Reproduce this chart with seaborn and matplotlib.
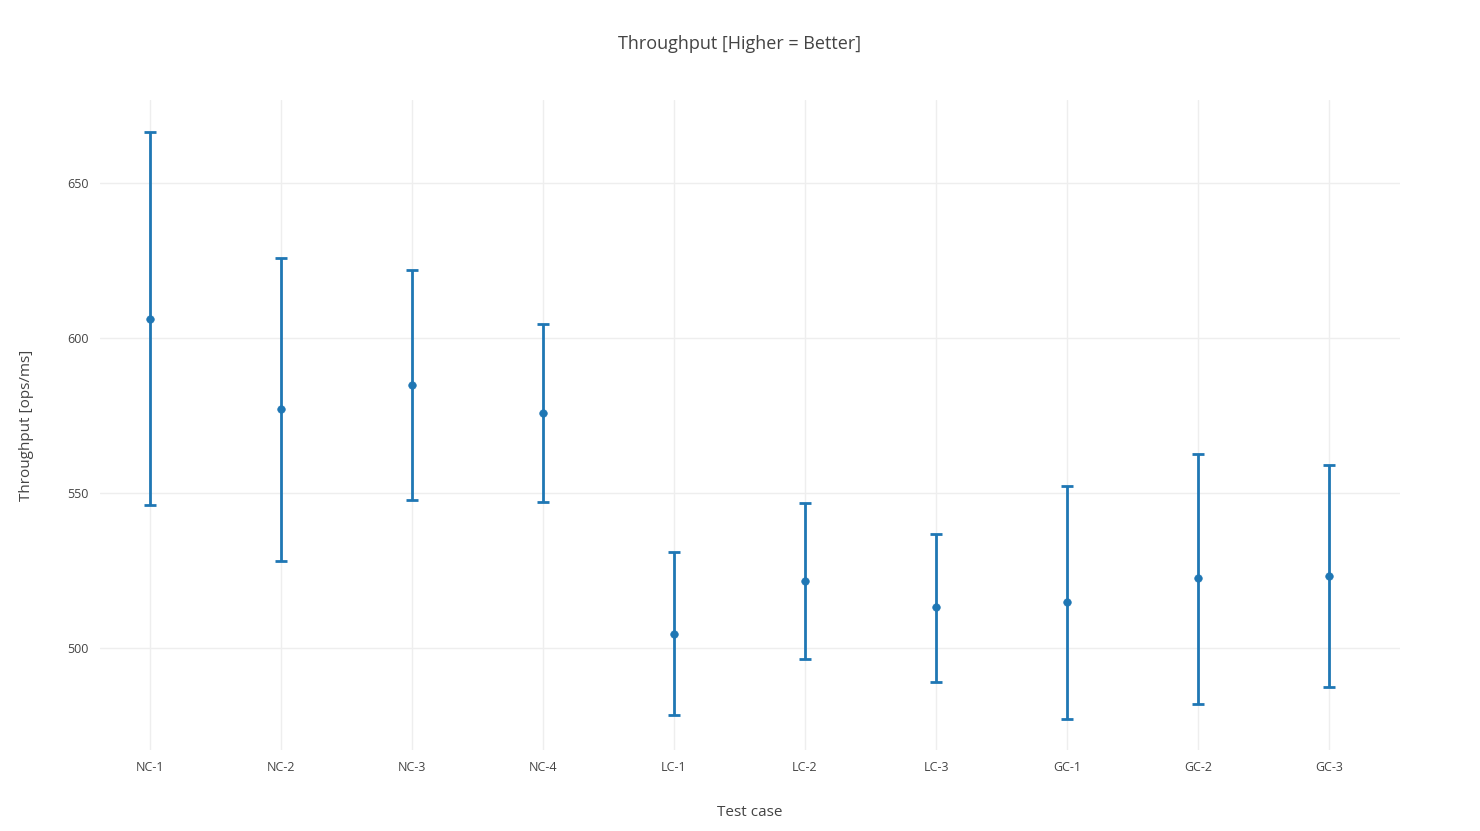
import matplotlib
matplotlib.use("Agg")
import matplotlib.pyplot as plt
import seaborn as sns
import numpy as np
import pandas as pd

cases = ["NC-1","NC-2","NC-3","NC-4","LC-1","LC-2","LC-3","GC-1","GC-2","GC-3"]
means = [606.1,577.1,584.8,575.8,504.5,521.6,513.2,514.8,522.6,523.2]
upper = [666.5,625.8,621.9,604.5,531.0,546.8,536.8,552.3,562.6,559.0]
lower = [546.1,528.1,547.7,547.1,478.4,496.5,489.0,477.1,481.9,487.4]

sns.set_theme(style="white")
plt.rcParams['font.family'] = ['Open Sans', 'DejaVu Sans']
df = pd.DataFrame({"case": cases, "mean": means})
x = np.arange(len(cases))

fig = plt.figure(figsize=(14.8, 8.31), dpi=100)
ax = fig.add_axes([100/1480, 81/831, 1300/1480, 650/831])
color = "#1f77b4"
m = np.array(means)
yerr = [m - np.array(lower), np.array(upper) - m]
ax.errorbar(x, m, yerr=yerr, fmt="none", ecolor=color, elinewidth=2, capsize=4, capthick=2, zorder=2)
sns.scatterplot(data=df, x=x, y="mean", ax=ax, color=color, s=30, edgecolor=color, zorder=3)

ax.set_xlim(-0.38, 9.54)
ax.set_ylim(467.1, 676.8)
ax.set_xticks(x)
ax.set_xticklabels(cases)
ax.set_yticks([500, 550, 600, 650])
ax.grid(True, color="#eeeeee", linewidth=1)
for s in ax.spines.values():
    s.set_visible(False)
ax.tick_params(axis="both", length=0, labelsize=9, colors="#444444", pad=8)
ax.set_xlabel("Test case", fontsize=11, color="#444444", labelpad=22)
ax.set_ylabel("Throughput [ops/ms]", fontsize=11, color="#444444", labelpad=24)
fig.text(0.5, 1 - 44/831, "Throughput [Higher = Better]", ha="center", va="center", fontsize=13, color="#444444")
fig.savefig("out.png", dpi=100)
